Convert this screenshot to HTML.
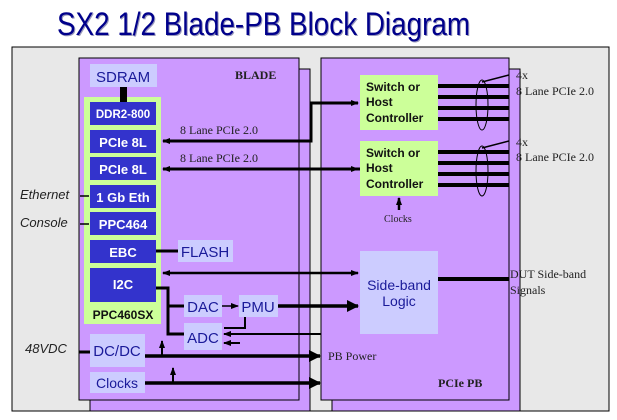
<!DOCTYPE html>
<html><head><style>body{margin:0;background:#fff}svg{display:block}</style></head><body>
<svg width="617" height="420" xmlns="http://www.w3.org/2000/svg" font-family="Liberation Sans, sans-serif">
<defs>
<marker id="a" markerWidth="8" markerHeight="8" refX="7" refY="4" orient="auto" markerUnits="userSpaceOnUse"><path d="M0,1 L8,4 L0,7z" fill="#000"/></marker>
<marker id="b" markerWidth="12" markerHeight="12" refX="11" refY="6" orient="auto" markerUnits="userSpaceOnUse"><path d="M0,0 L12,6 L0,12z" fill="#000"/></marker>
</defs>
<text x="58" y="36" font-size="32" fill="#9999bb" textLength="413" lengthAdjust="spacingAndGlyphs">SX2 1/2 Blade-PB Block Diagram</text>
<text x="57" y="35" font-size="32" fill="#00008b" textLength="413" lengthAdjust="spacingAndGlyphs">SX2 1/2 Blade-PB Block Diagram</text>
<rect x="12" y="47" width="597" height="364" fill="#e8e8e8" stroke="#000" stroke-width="1"/>
<rect x="90" y="69" width="220" height="342" fill="#cc99ff" stroke="#000"/>
<rect x="79" y="58" width="220" height="342" fill="#cc99ff" stroke="#000"/>
<rect x="332" y="69" width="188" height="342" fill="#cc99ff" stroke="#000"/>
<rect x="321" y="58" width="188" height="342" fill="#cc99ff" stroke="#000"/>
<text x="235" y="79" font-family="Liberation Serif, serif" font-weight="bold" font-size="12" fill="#222">BLADE</text>
<text x="438" y="387" font-family="Liberation Serif, serif" font-weight="bold" font-size="12" fill="#222">PCIe PB</text>
<rect x="84" y="97" width="77" height="227" fill="#ccff99"/>
<rect x="90" y="64" width="67" height="23" fill="#ccccff"/>
<text x="96" y="82" font-size="15" fill="#1a1a99">SDRAM</text>
<rect x="120" y="87" width="7" height="15" fill="#000"/>
<g fill="#3333cc">
<rect x="90" y="102" width="66" height="23"/><rect x="90" y="130" width="66" height="23"/><rect x="90" y="157" width="66" height="23"/><rect x="90" y="185" width="66" height="23"/><rect x="90" y="212" width="66" height="23"/><rect x="90" y="240" width="66" height="23"/><rect x="90" y="268" width="66" height="34"/></g>
<g fill="#fff" font-size="12" text-anchor="middle" font-weight="bold">
<text x="123" y="118" font-size="11.5">DDR2-800</text><text x="123" y="147" font-size="13">PCIe 8L</text><text x="123" y="174" font-size="13">PCIe 8L</text><text x="123" y="202" font-size="13">1 Gb Eth</text><text x="123" y="229" font-size="13">PPC464</text><text x="123" y="257" font-size="13">EBC</text><text x="123" y="289" font-size="13">I2C</text></g>
<text x="123" y="319" font-size="12" font-weight="bold" text-anchor="middle" fill="#111">PPC460SX</text>
<text x="20" y="199" font-size="13" font-style="italic" fill="#222">Ethernet</text>
<text x="20" y="227" font-size="13" font-style="italic" fill="#222">Console</text>
<text x="25" y="353" font-size="13" font-style="italic" fill="#222">48VDC</text>
<g stroke="#000" stroke-width="1.5"><line x1="80" y1="196" x2="89" y2="196"/><line x1="80" y1="224" x2="89" y2="224"/></g>
<rect x="178" y="240" width="55" height="22" fill="#ccccff"/><text x="205" y="257" font-size="15" fill="#1a1a99" text-anchor="middle">FLASH</text>
<rect x="184" y="295" width="38" height="22" fill="#ccccff"/><text x="203" y="312" font-size="15" fill="#1a1a99" text-anchor="middle">DAC</text>
<rect x="239" y="295" width="39" height="22" fill="#ccccff"/><text x="258" y="312" font-size="15" fill="#1a1a99" text-anchor="middle">PMU</text>
<rect x="184" y="323" width="38" height="27" fill="#ccccff"/><text x="203" y="343" font-size="15" fill="#1a1a99" text-anchor="middle">ADC</text>
<rect x="90" y="334" width="55" height="33" fill="#ccccff"/><text x="117" y="356" font-size="15" fill="#1a1a99" text-anchor="middle">DC/DC</text>
<rect x="90" y="372" width="55" height="21" fill="#ccccff"/><text x="117" y="388" font-size="14" fill="#1a1a99" text-anchor="middle">Clocks</text>
<rect x="360" y="75" width="78" height="55" fill="#ccff99"/>
<rect x="360" y="141" width="78" height="55" fill="#ccff99"/>
<rect x="360" y="251" width="78" height="83" fill="#ccccff"/>
<g font-size="12" font-weight="bold" fill="#111"><text x="366" y="91">Switch or</text><text x="366" y="106">Host</text><text x="366" y="122">Controller</text><text x="366" y="157">Switch or</text><text x="366" y="172">Host</text><text x="366" y="188">Controller</text></g>
<text x="399" y="290" font-size="14" fill="#1a1a99" text-anchor="middle">Side-band</text>
<text x="399" y="306" font-size="14" fill="#1a1a99" text-anchor="middle">Logic</text>
<g font-family="Liberation Serif, serif" fill="#222" font-size="12">
<text x="180" y="134">8 Lane PCIe 2.0</text><text x="180" y="162">8 Lane PCIe 2.0</text>
<text x="516" y="79">4x</text><text x="516" y="95">8 Lane PCIe 2.0</text>
<text x="516" y="146">4x</text><text x="516" y="161">8 Lane PCIe 2.0</text>
<text x="510" y="278">DUT Side-band</text><text x="510" y="294">Signals</text>
<text x="328" y="360">PB Power</text><text x="384" y="222" font-size="10">Clocks</text></g>
<g stroke="#000" fill="none">
<polyline points="310,141 311,141 311,103 358,103" stroke-width="3" marker-end="url(#a)"/>
<line x1="310" y1="141" x2="163" y2="141" stroke-width="3" marker-end="url(#a)"/>
<line x1="360" y1="169" x2="163" y2="169" stroke-width="3" marker-end="url(#a)"/>
<line x1="310" y1="169" x2="358" y2="169" stroke-width="3" marker-end="url(#a)"/>
<line x1="310" y1="273" x2="163" y2="273" stroke-width="2.5" marker-end="url(#a)"/>
<line x1="310" y1="273" x2="358" y2="273" stroke-width="2.5" marker-end="url(#a)"/>
<line x1="156" y1="251" x2="178" y2="251" stroke-width="3"/>
<polyline points="156,288 168,288 168,334 184,334" stroke-width="3"/>
<line x1="168" y1="306" x2="184" y2="306" stroke-width="3"/>
<line x1="222" y1="306" x2="238" y2="306" stroke-width="1.5" marker-end="url(#a)"/>
<polyline points="245,317 245,328 224,328" stroke-width="2"/>
<line x1="278" y1="306" x2="310" y2="306" stroke-width="3.5"/>
<line x1="310" y1="306" x2="358" y2="306" stroke-width="3.5" marker-end="url(#b)"/>
<line x1="321" y1="334" x2="224" y2="334" stroke-width="2" marker-end="url(#a)"/>
<line x1="240" y1="343" x2="224" y2="343" stroke-width="2" marker-end="url(#a)"/>
<line x1="79" y1="352" x2="90" y2="352" stroke-width="3"/>
<line x1="145" y1="356" x2="320" y2="356" stroke-width="3.5" marker-end="url(#b)"/>
<line x1="145" y1="383" x2="320" y2="383" stroke-width="3.5" marker-end="url(#b)"/>
<line x1="162" y1="356" x2="162" y2="341" stroke-width="2" marker-end="url(#a)"/>
<line x1="173" y1="383" x2="173" y2="368" stroke-width="2" marker-end="url(#a)"/>
<line x1="399" y1="210" x2="399" y2="198" stroke-width="2.5" marker-end="url(#a)"/>
<g stroke-width="4"><line x1="438" y1="86" x2="509" y2="86"/><line x1="438" y1="97" x2="509" y2="97"/><line x1="438" y1="108" x2="509" y2="108"/><line x1="438" y1="119" x2="509" y2="119"/>
<line x1="438" y1="152" x2="509" y2="152"/><line x1="438" y1="163" x2="509" y2="163"/><line x1="438" y1="174" x2="509" y2="174"/><line x1="438" y1="185" x2="509" y2="185"/>
<line x1="438" y1="279" x2="509" y2="279"/></g>
<ellipse cx="482" cy="105" rx="6" ry="25" stroke-width="1"/>
<ellipse cx="482" cy="171" rx="6" ry="25" stroke-width="1"/>
<line x1="482" y1="82" x2="509" y2="75" stroke-width="1.5"/>
<line x1="482" y1="148" x2="509" y2="141" stroke-width="1.5"/>
</g>
</svg>
</body></html>
